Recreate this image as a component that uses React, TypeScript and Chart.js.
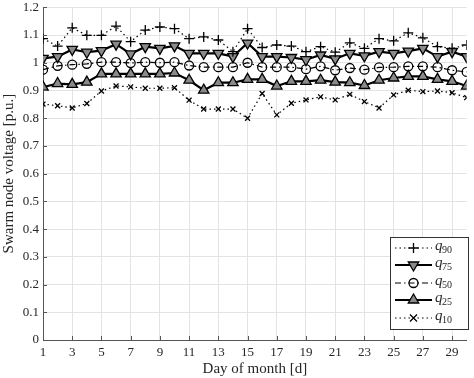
import React, { useEffect, useRef } from "react";
import { Chart, registerables } from "chart.js";

Chart.register(...registerables);

const days = Array.from({ length: 30 }, (_, i) => i + 1);
const xTicks = [1, 3, 5, 7, 9, 11, 13, 15, 17, 19, 21, 23, 25, 27, 29];

const q90 = [1.087, 1.06, 1.126, 1.099, 1.099, 1.132, 1.076, 1.118, 1.129, 1.123, 1.087, 1.093, 1.082, 1.04, 1.123,
  1.055, 1.064, 1.06, 1.04, 1.058, 1.038, 1.072, 1.052, 1.087, 1.079, 1.108, 1.09, 1.058, 1.052, 1.064];
const q75 = [1.016, 1.022, 1.048, 1.038, 1.044, 1.067, 1.032, 1.058, 1.052, 1.061, 1.034, 1.034, 1.034, 1.022, 1.071,
  1.022, 1.022, 1.019, 1.011, 1.028, 1.014, 1.034, 1.025, 1.04, 1.034, 1.042, 1.052, 1.022, 1.04, 1.022];
const q50 = [0.975, 0.989, 0.993, 0.996, 1.002, 1.002, 0.999, 1.002, 1.0, 1.002, 0.99, 0.984, 0.984, 0.984, 1.0,
  0.984, 0.984, 0.984, 0.977, 0.987, 0.973, 0.981, 0.975, 0.983, 0.984, 0.987, 0.987, 0.984, 0.973, 0.967];
const q25 = [0.912, 0.925, 0.922, 0.93, 0.96, 0.96, 0.96, 0.96, 0.96, 0.963, 0.937, 0.901, 0.928, 0.928, 0.94,
  0.94, 0.916, 0.933, 0.933, 0.937, 0.93, 0.928, 0.918, 0.937, 0.945, 0.951, 0.951, 0.94, 0.933, 0.916];
const q10 = [0.851, 0.845, 0.837, 0.853, 0.898, 0.916, 0.913, 0.908, 0.908, 0.91, 0.865, 0.833, 0.833, 0.833, 0.8,
  0.889, 0.812, 0.854, 0.866, 0.877, 0.866, 0.886, 0.86, 0.837, 0.884, 0.901, 0.896, 0.898, 0.892, 0.874];

const seriesNames = ["90", "75", "50", "25", "10"];

const SERIF = "'Liberation Serif', 'DejaVu Serif', serif";
const TEXT = "#262626";
const TRI_FILL = "#8a8a8a";

type Marker = "plus" | "triDown" | "circle" | "triUp" | "x";
const markers: Marker[] = ["plus", "triDown", "circle", "triUp", "x"];
const dashes: number[][] = [[1.5, 3], [], [6, 3, 1.5, 3], [], [1.5, 3]];
const widths = [1.2, 2.2, 1.2, 2.2, 1.2];

function drawMarker(ctx: CanvasRenderingContext2D, m: Marker, x: number, y: number) {
  ctx.save();
  ctx.setLineDash([]);
  ctx.strokeStyle = "#000";
  ctx.lineWidth = 1.3;
  ctx.beginPath();
  if (m === "plus") {
    ctx.moveTo(x - 5, y); ctx.lineTo(x + 5, y);
    ctx.moveTo(x, y - 5); ctx.lineTo(x, y + 5);
    ctx.stroke();
  } else if (m === "x") {
    ctx.moveTo(x - 3.5, y - 3.5); ctx.lineTo(x + 3.5, y + 3.5);
    ctx.moveTo(x + 3.5, y - 3.5); ctx.lineTo(x - 3.5, y + 3.5);
    ctx.stroke();
  } else if (m === "circle") {
    ctx.arc(x, y, 4.5, 0, Math.PI * 2);
    ctx.stroke();
  } else {
    const r = 6;
    const s = m === "triUp" ? 1 : -1;
    ctx.moveTo(x, y - s * r);
    ctx.lineTo(x + r * 0.87, y + s * r * 0.5);
    ctx.lineTo(x - r * 0.87, y + s * r * 0.5);
    ctx.closePath();
    ctx.fillStyle = TRI_FILL;
    ctx.fill();
    ctx.stroke();
  }
  ctx.restore();
}

const innerTicksPlugin = {
  id: "innerTicks",
  afterDatasetsDraw(chart: any) {
    const ctx: CanvasRenderingContext2D = chart.ctx;
    const { left, bottom } = chart.chartArea;
    const xs = chart.scales.x;
    const ys = chart.scales.y;
    ctx.save();
    ctx.strokeStyle = "#555";
    ctx.lineWidth = 1;
    ctx.beginPath();
    xs.ticks.forEach((t: any) => {
      const px = Math.round(xs.getPixelForValue(t.value)) + 0.5;
      ctx.moveTo(px, bottom);
      ctx.lineTo(px, bottom - 4);
    });
    ys.ticks.forEach((t: any) => {
      const py = Math.round(ys.getPixelForValue(t.value)) + 0.5;
      ctx.moveTo(left, py);
      ctx.lineTo(left + 4, py);
    });
    ctx.stroke();
    ctx.restore();
  },
};

const legendPlugin = {
  id: "customLegend",
  afterDraw(chart: any) {
    const ctx: CanvasRenderingContext2D = chart.ctx;
    const bx = 390, by = 237, bw = 78, bh = 92;
    ctx.save();
    ctx.fillStyle = "#fff";
    ctx.fillRect(bx, by, bw, bh);
    ctx.strokeStyle = "#333";
    ctx.lineWidth = 1;
    ctx.strokeRect(bx + 0.5, by + 0.5, bw, bh);
    const rowY = [248, 265, 283, 300, 318];
    seriesNames.forEach((name, i) => {
      const y = rowY[i];
      ctx.save();
      ctx.strokeStyle = "#000";
      ctx.lineWidth = widths[i];
      ctx.setLineDash(dashes[i]);
      ctx.beginPath();
      ctx.moveTo(395, y);
      ctx.lineTo(432, y);
      ctx.stroke();
      ctx.restore();
      drawMarker(ctx, markers[i], 413.5, y);
      ctx.fillStyle = TEXT;
      ctx.textBaseline = "alphabetic";
      ctx.textAlign = "left";
      ctx.font = `italic 15px ${SERIF}`;
      ctx.fillText("q", 435, y + 2);
      ctx.font = `10px ${SERIF}`;
      ctx.fillText(name, 442, y + 5);
    });
    ctx.restore();
  },
};

const allSeries = [q90, q75, q50, q25, q10];

export default function App() {
  const ref = useRef<HTMLCanvasElement>(null);
  useEffect(() => {
    document.body.style.margin = "0";
    const canvas = ref.current!;
    const pointStyles: any[] = ["cross", "triangle", "circle", "triangle", "crossRot"];
    const radii = [5, 6, 4.5, 6, 3.5];
    const chart = new Chart(canvas, {
      type: "line",
      data: {
        labels: days,
        datasets: allSeries.map((s, i) => ({
          label: "q" + seriesNames[i],
          data: s.map((v, j) => ({ x: days[j], y: v })),
          borderColor: "#000",
          borderWidth: widths[i],
          borderDash: dashes[i],
          pointStyle: pointStyles[i],
          pointRotation: i === 1 ? 180 : 0,
          pointRadius: radii[i],
          pointBorderWidth: 1.3,
          pointBorderColor: "#000",
          pointBackgroundColor: i === 1 || i === 3 ? TRI_FILL : "rgba(0,0,0,0)",
          tension: 0,
          fill: false,
        })),
      },
      plugins: [innerTicksPlugin, legendPlugin],
      options: {
        animation: false,
        responsive: false,
        maintainAspectRatio: false,
        layout: { padding: { top: 4, right: 7, left: 0, bottom: 0 } },
        plugins: { legend: { display: false }, tooltip: { enabled: false } },
        scales: {
          x: {
            type: "linear",
            min: 1,
            max: 30,
            afterBuildTicks: (scale: any) => {
              scale.ticks = xTicks.map((v) => ({ value: v }));
            },
            afterFit: (scale: any) => {
              scale.height = 38;
              scale.paddingLeft = 0;
              scale.paddingRight = 0;
            },
            grid: { color: "#e3e3e3", drawTicks: false },
            border: { color: "#555", width: 1 },
            ticks: {
              color: TEXT,
              font: { family: SERIF, size: 13 },
              padding: 5,
              maxRotation: 0,
              autoSkip: false,
            },
            title: {
              display: true,
              text: "Day of month [d]",
              color: TEXT,
              font: { family: SERIF, size: 15 },
              padding: { top: -3, bottom: 0 },
            },
          },
          y: {
            min: 0,
            max: 1.2,
            afterFit: (scale: any) => {
              scale.width = 43;
              scale.paddingTop = 0;
              scale.paddingBottom = 0;
            },
            grid: { color: "#e3e3e3", drawTicks: false },
            border: { color: "#555", width: 1 },
            ticks: {
              stepSize: 0.1,
              color: TEXT,
              font: { family: SERIF, size: 13 },
              padding: 4,
              callback: (v: any) => String(Number(Number(v).toFixed(1))),
            },
            title: {
              display: true,
              text: "Swarm node voltage [p.u.]",
              color: TEXT,
              font: { family: SERIF, size: 15 },
              padding: { top: 0, bottom: 0 },
            },
          },
        },
      },
    } as any);
    return () => chart.destroy();
  }, []);
  return (
    <div style={{ width: 474, height: 378, background: "#fff" }}>
      <canvas ref={ref} width={474} height={378} style={{ display: "block" }} />
    </div>
  );
}
